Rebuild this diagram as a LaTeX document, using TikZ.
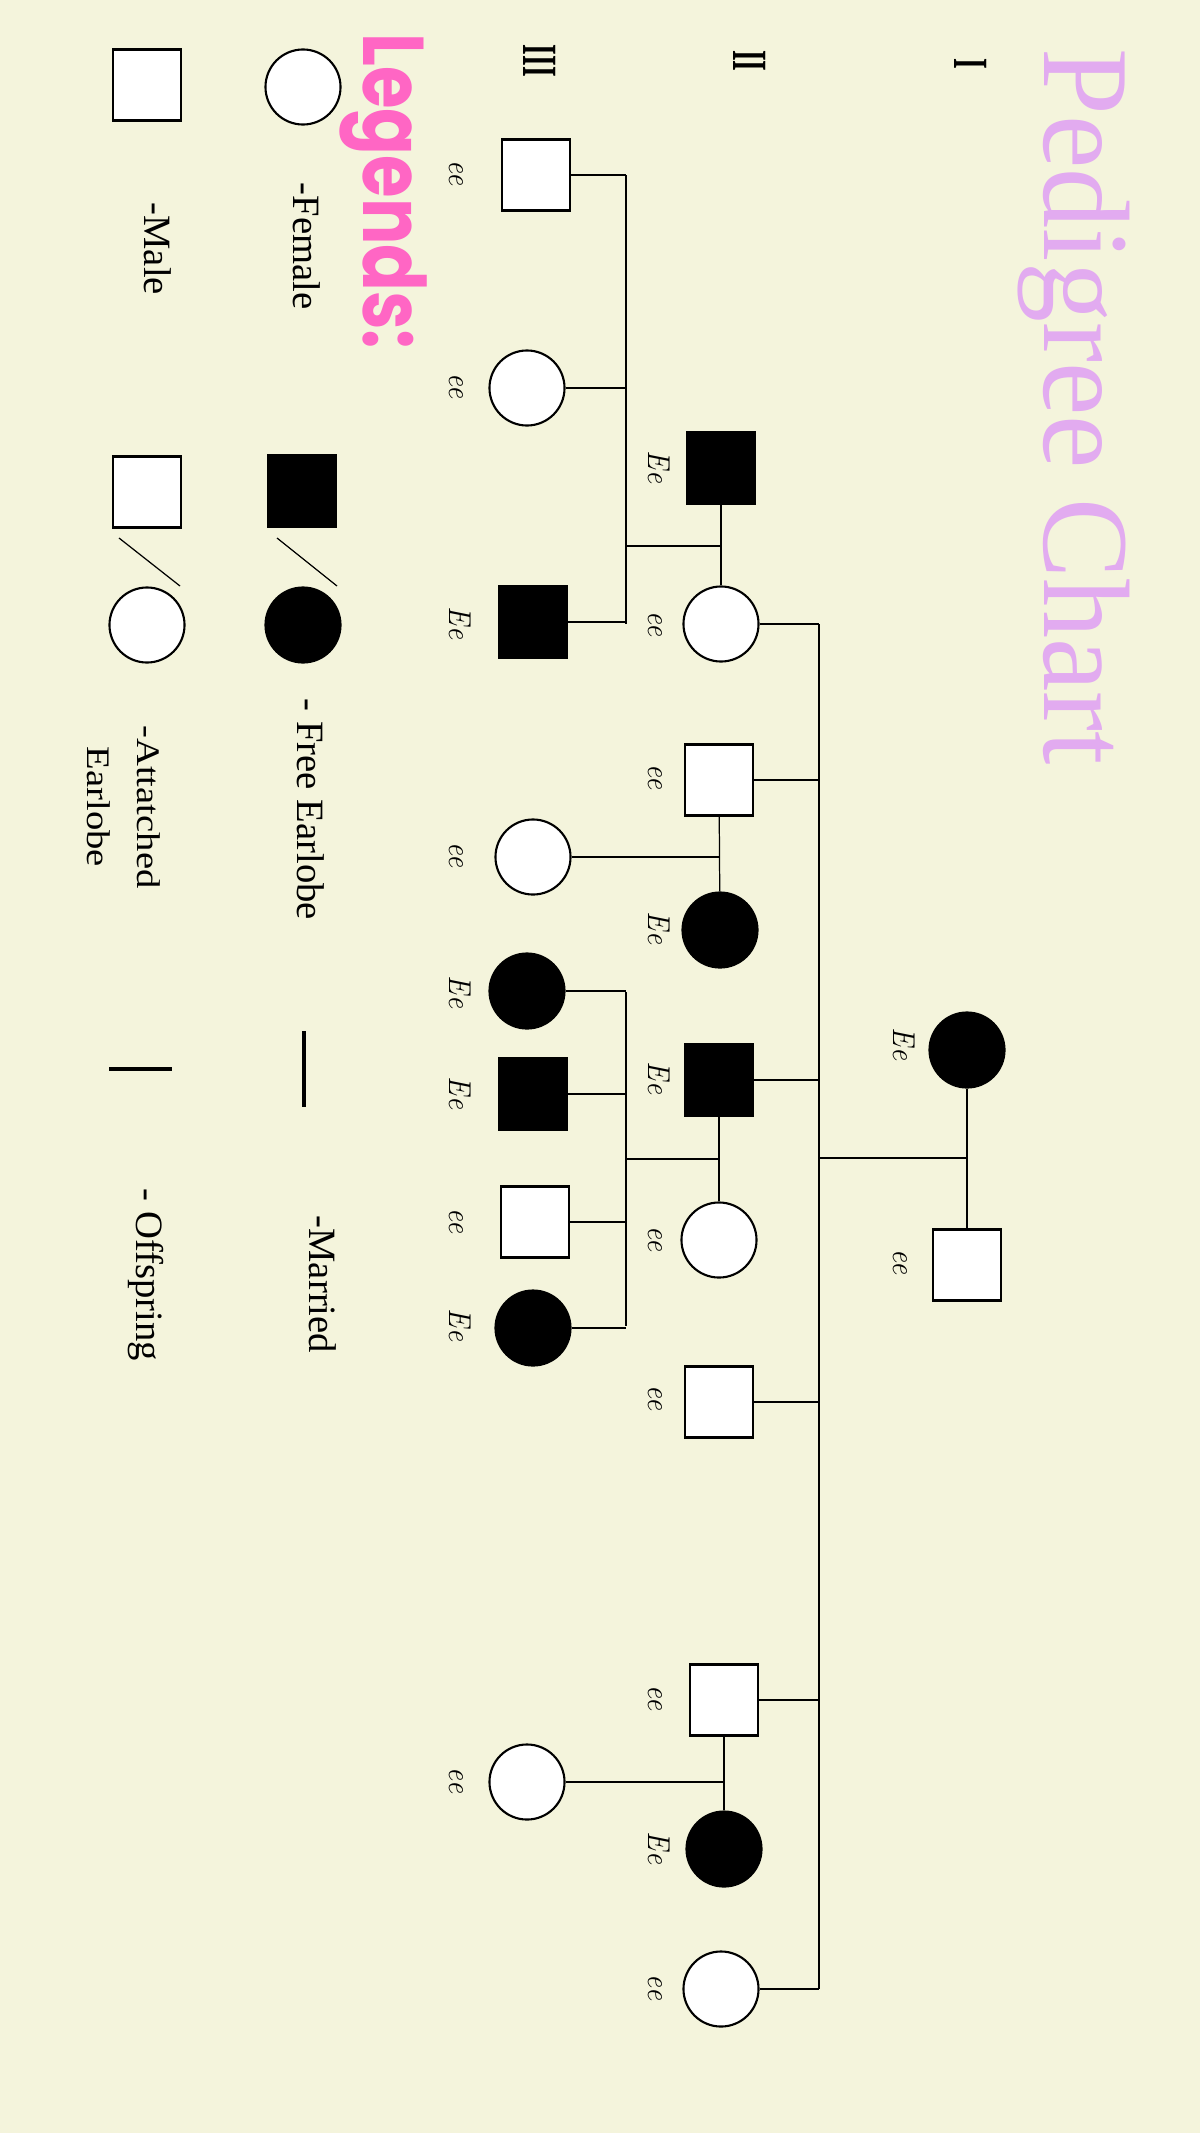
\documentclass[tikz,border=0pt]{standalone}
\usepackage{fontspec}
\setmainfont{Liberation Serif}
\newfontfamily\legfont{Poppins}
\definecolor{paper}{RGB}{244,244,220}
\definecolor{lilac}{RGB}{226,171,240}
\definecolor{hotpink}{RGB}{255,102,196}

\begin{document}
\begin{tikzpicture}[x=0.01cm,y=-0.01cm,
  male/.style={draw,rectangle,line width=0.6pt,minimum width=6.8mm,minimum height=7.1mm,inner sep=0pt},
  female/.style={draw,circle,line width=0.6pt,minimum size=7.5mm,inner sep=0pt},
  aff/.style={fill=black},
  unaff/.style={fill=white},
  geno/.style={rotate=-90,xscale=0.8,anchor=base,inner sep=0pt,font=\fontsize{9.5}{11}\selectfont},
  genlab/.style={rotate=-90,xscale=0.56,inner sep=0pt,font=\fontsize{14}{16}\selectfont\bfseries},
  legtext/.style={rotate=-90,anchor=base west,inner sep=0pt,font=\fontsize{11}{13.6}\selectfont},
  conn/.style={line width=0.35pt}]
  \path[use as bounding box,fill=paper] (0,0) rectangle (1200,2133);

  \node[rotate=-90,xscale=0.975,anchor=base west,inner sep=0pt,text=lilac,font=\fontsize{35}{40}\selectfont] (title) at (1044,48) {Pedigree Chart};
  \node[genlab] (g1) at (971,64) {I};
  \node[genlab] (g2) at (750,61) {II};
  \node[genlab] (g3) at (540,61) {III};

  % generation I
  \node[female,aff] (I1) at (967,1050) {};
  \node[male,unaff] (I2) at (967,1265) {};
  \node[geno] (tI1) at (893,1045) {$Ee$};
  \node[geno] (tI2) at (893,1264) {$ee$};

  % generation II
  \node[male,aff] (IIb) at (721,468) {};
  \node[female,unaff] (IIa) at (721,624) {};
  \node[male,unaff] (IIc) at (719,780) {};
  \node[female,unaff] (IIcw) at (533,857) {};
  \node[female,aff] (IIIh) at (720,930) {};
  \node[male,aff] (IId) at (719,1080) {};
  \node[female,unaff] (IIdw) at (719,1240) {};
  \node[male,unaff] (IIf) at (719,1402) {};
  \node[male,unaff] (IIg) at (724,1700) {};
  \node[female,unaff] (IIgw) at (527,1782) {};
  \node[female,aff] (IIIm) at (724,1849) {};
  \node[female,unaff] (IIh) at (721,1989) {};

  \node[geno] (tIIb) at (648,468) {$Ee$};
  \node[geno] (tIIa) at (648,626) {$ee$};
  \node[geno] (tIIc) at (648,779) {$ee$};
  \node[geno] (tIIIh) at (648,929) {$Ee$};
  \node[geno] (tIId) at (648,1079) {$Ee$};
  \node[geno] (tIIdw) at (648,1241) {$ee$};
  \node[geno] (tIIf) at (648,1400) {$ee$};
  \node[geno] (tIIg) at (648,1700) {$ee$};
  \node[geno] (tIIIm) at (648,1849) {$Ee$};
  \node[geno] (tIIh) at (648,1989) {$ee$};

  % generation III
  \node[male,unaff] (IIIa) at (536,175) {};
  \node[female,unaff] (IIIb) at (527,388) {};
  \node[male,aff] (IIIc) at (533,622) {};
  \node[female,aff] (IIId) at (527,991) {};
  \node[male,aff] (IIIe) at (533,1094) {};
  \node[male,unaff] (IIIf) at (535,1222) {};
  \node[female,aff] (IIIg) at (533,1328) {};

  \node[geno] (tIIIa) at (449,175) {$ee$};
  \node[geno] (tIIIb) at (449,388) {$ee$};
  \node[geno] (tIIIc) at (449,624) {$Ee$};
  \node[geno] (tIIcw) at (449,857) {$ee$};
  \node[geno] (tIIId) at (449,993) {$Ee$};
  \node[geno] (tIIIe) at (449,1094) {$Ee$};
  \node[geno] (tIIIf) at (449,1223) {$ee$};
  \node[geno] (tIIIg) at (449,1326) {$Ee$};
  \node[geno] (tIIgw) at (449,1782) {$ee$};

  % lines
  \coordinate (s2t) at (819,624);
  \coordinate (s2b) at (819,1989);
  \coordinate (s3t) at (626,175);
  \coordinate (s3b) at (626,624);
  \coordinate (s4t) at (626,992);
  \coordinate (s4b) at (626,1326);
  \coordinate (m1) at (967,1158);
  \coordinate (m2) at (721,546);
  \coordinate (m3) at (719,1159);

  \draw[conn] (I1) -- (I2);
  \draw[conn] (m1) -- (m1 -| s2t);
  \draw[conn] (s2t) -- (s2b);
  \foreach \c in {IIa,IIc,IId,IIf,IIg,IIh}
    \draw[conn] (\c.east) -- (\c.east -| s2t);

  \draw[conn] (IIb) -- (IIa);
  \draw[conn] (m2) -- (m2 -| s3t);
  \draw[conn] (s3t) -- (s3b);
  \foreach \c in {IIIa,IIIb,IIIc}
    \draw[conn] (\c.east) -- (\c.east -| s3t);

  \draw[conn] (IIc) -- (IIIh);
  \draw[conn] (IIcw.east) -- (IIcw.east -| IIc);

  \draw[conn] (IId) -- (IIdw);
  \draw[conn] (m3) -- (m3 -| s4t);
  \draw[conn] (s4t) -- (s4b);
  \foreach \c in {IIId,IIIe,IIIf,IIIg}
    \draw[conn] (\c.east) -- (\c.east -| s4t);

  \draw[conn] (IIg) -- (IIIm);
  \draw[conn] (IIgw.east) -- (IIgw.east -| IIIm);

  % legend
  \node[rotate=-90,xscale=0.8,anchor=base west,inner sep=0pt,text=hotpink,font=\legfont\bfseries\fontsize{24.5}{28}\selectfont] (legtitle) at (363,33) {Legends:};
  \node[male,unaff] (lm) at (147,85) {};
  \node[female,unaff] (lf) at (303,87) {};
  \node[legtext] (tlm) at (144,202) {-Male};
  \node[legtext] (tlf) at (293,182) {-Female};

  \node[male,aff] (lma) at (302,491) {};
  \node[female,aff] (lfa) at (303,625) {};
  \node[male,unaff] (lmu) at (147,492) {};
  \node[female,unaff] (lfu) at (147,625) {};
  \coordinate (sa1) at (277,538);
  \coordinate (sa2) at (337,586);
  \coordinate (su1) at (119,538);
  \coordinate (su2) at (180,586);
  \draw[conn] (sa1) -- (sa2);
  \draw[conn] (su1) -- (su2);
  \node[legtext] (tfree) at (297,698) {- Free Earlobe};
  \node[rotate=-90,yscale=0.85,inner sep=0pt,align=center,font=\fontsize{11}{16.7}\selectfont] (tatt) at (124,807) {-Attatched\\Earlobe};

  \coordinate (mar1) at (304,1031);
  \coordinate (mar2) at (304,1107);
  \draw[line width=1.1pt] (mar1) -- (mar2);
  \node[legtext] (tmar) at (309,1215) {-Married};
  \coordinate (off1) at (109,1069);
  \coordinate (off2) at (172,1069);
  \draw[line width=1.1pt] (off1) -- (off2);
  \node[legtext] (toff) at (136,1188) {- Offspring};
\end{tikzpicture}
\end{document}
